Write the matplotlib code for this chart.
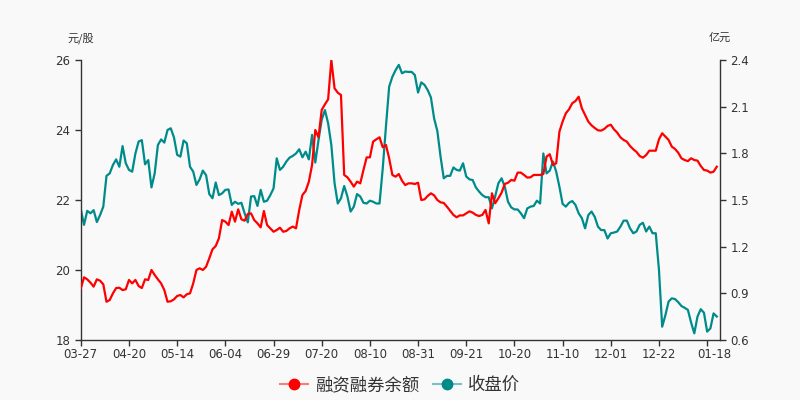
import matplotlib
matplotlib.use("Agg")
import matplotlib.pyplot as plt
from matplotlib.lines import Line2D
import numpy as np

plt.rcParams['font.family'] = ['DejaVu Sans', 'Noto Sans CJK SC']
CJK = ['Noto Sans CJK SC', 'DejaVu Sans']

# ---- data ----
tick_labels = ["03-27", "04-20", "05-14", "06-04", "06-29", "07-20", "08-10",
               "08-31", "09-21", "10-20", "11-10", "12-01", "12-22", "01-13"]
last_label = "01-18"

# 收盘价 (元/股, left axis)
close_price = [
    21.73, 21.29, 21.69, 21.62, 21.71, 21.37, 21.57, 21.81, 22.69, 22.76,
    23.00, 23.16, 22.95, 23.54, 23.05, 22.86, 22.81, 23.33, 23.67, 23.71,
    23.02, 23.14, 22.36, 22.76, 23.57, 23.73, 23.64, 24.00, 24.05, 23.79,
    23.29, 23.24, 23.70, 23.62, 22.95, 22.81, 22.43, 22.59, 22.84, 22.71,
    22.17, 22.05, 22.50, 22.14, 22.19, 22.29, 22.30, 21.86, 21.95, 21.89,
    21.92, 21.62, 21.36, 22.10, 22.11, 21.83, 22.29, 21.95, 21.98, 22.14,
    22.33, 23.19, 22.86, 22.95, 23.10, 23.21, 23.26, 23.33, 23.45, 23.22,
    23.38, 23.16, 23.86, 23.07, 23.71, 24.29, 24.57, 24.19, 23.57, 22.48,
    21.90, 22.05, 22.40, 22.10, 21.67, 21.81, 22.17, 22.10, 21.92, 21.90,
    21.98, 21.95, 21.90, 21.90, 22.90, 24.10, 25.24, 25.52, 25.71, 25.86,
    25.62, 25.67, 25.66, 25.66, 25.57, 25.07, 25.36, 25.29, 25.14, 24.93,
    24.33, 23.97, 23.24, 22.62, 22.69, 22.69, 22.93, 22.86, 22.84, 23.05,
    22.67, 22.59, 22.57, 22.36, 22.24, 22.14, 22.08, 22.08, 21.76, 22.10,
    22.48, 22.62, 22.38, 21.95, 21.79, 21.73, 21.73, 21.62, 21.48, 21.76,
    21.81, 21.83, 21.98, 21.90, 23.33, 22.76, 22.84, 23.10, 22.81, 22.38,
    21.89, 21.81, 21.92, 21.97, 21.86, 21.62, 21.48, 21.19, 21.57, 21.67,
    21.52, 21.24, 21.14, 21.14, 20.90, 21.05, 21.07, 21.10, 21.24, 21.41,
    21.41, 21.19, 21.05, 21.10, 21.29, 21.35, 21.10, 21.24, 21.05, 21.05,
    20.00, 18.38, 18.71, 19.10, 19.19, 19.17, 19.08, 18.97, 18.92, 18.86,
    18.50, 18.19, 18.67, 18.88, 18.78, 18.24, 18.33, 18.76, 18.67,
]

# 融资融券余额 (亿元, right axis)
margin_balance = [
    0.932, 1.003, 0.990, 0.969, 0.943, 0.990, 0.981, 0.958, 0.846, 0.857,
    0.900, 0.934, 0.936, 0.921, 0.926, 0.986, 0.964, 0.986, 0.947, 0.934,
    0.990, 0.986, 1.050, 1.018, 0.990, 0.964, 0.921, 0.846, 0.849, 0.861,
    0.883, 0.889, 0.874, 0.894, 0.900, 0.964, 1.050, 1.061, 1.050, 1.071,
    1.125, 1.183, 1.204, 1.254, 1.371, 1.361, 1.339, 1.425, 1.361, 1.440,
    1.376, 1.367, 1.410, 1.414, 1.371, 1.350, 1.324, 1.429, 1.339, 1.318,
    1.296, 1.307, 1.322, 1.296, 1.301, 1.318, 1.329, 1.318, 1.436, 1.532,
    1.558, 1.618, 1.725, 1.950, 1.903, 2.079, 2.115, 2.147, 2.400, 2.218,
    2.190, 2.175, 1.661, 1.646, 1.618, 1.586, 1.618, 1.607, 1.693, 1.774,
    1.774, 1.875, 1.890, 1.903, 1.839, 1.854, 1.768, 1.661, 1.650, 1.667,
    1.624, 1.596, 1.607, 1.607, 1.603, 1.611, 1.500, 1.504, 1.526, 1.543,
    1.530, 1.500, 1.485, 1.481, 1.457, 1.431, 1.404, 1.389, 1.401, 1.401,
    1.414, 1.427, 1.419, 1.404, 1.397, 1.404, 1.436, 1.350, 1.543, 1.479,
    1.511, 1.547, 1.603, 1.611, 1.629, 1.624, 1.676, 1.676, 1.661, 1.644,
    1.646, 1.661, 1.661, 1.661, 1.667, 1.779, 1.794, 1.725, 1.736, 1.939,
    2.004, 2.057, 2.083, 2.122, 2.136, 2.164, 2.089, 2.046, 2.004, 1.980,
    1.963, 1.948, 1.946, 1.957, 1.976, 1.984, 1.954, 1.933, 1.903, 1.886,
    1.875, 1.847, 1.826, 1.809, 1.783, 1.772, 1.789, 1.817, 1.817, 1.817,
    1.890, 1.929, 1.907, 1.886, 1.843, 1.828, 1.804, 1.768, 1.757, 1.750,
    1.768, 1.757, 1.753, 1.719, 1.693, 1.689, 1.676, 1.682, 1.714,
]

left_ticks = [18, 20, 22, 24, 26]
right_ticks = [0.6, 0.9, 1.2, 1.5, 1.8, 2.1, 2.4]

RED = '#ff0000'
TEAL = '#008b8b'
TXT = '#333333'
BG = '#f9f9f9'

fig = plt.figure(figsize=(8, 4), dpi=100, facecolor=BG)
ax = fig.add_axes([0.101, 0.15, 0.799, 0.70])
ax.set_facecolor(BG)
ax2 = ax.twinx()

x = np.arange(len(close_price))
ax.plot(x, close_price, color=TEAL, lw=1.6, solid_joinstyle='round', zorder=2)
ax2.plot(np.arange(len(margin_balance)), margin_balance, color=RED, lw=1.6,
         solid_joinstyle='round', zorder=3)

ax.set_xlim(0, 199)
ax.set_ylim(18, 26)
ax2.set_ylim(0.6, 2.4)

ax.set_yticks(left_ticks)
ax.set_yticklabels([str(t) for t in left_ticks])
ax2.set_yticks(right_ticks)
ax2.set_yticklabels([f"{t:.1f}" for t in right_ticks])

pos = list(range(0, 15 * len(tick_labels), 15))
ax.set_xticks(pos)
ax.set_xticklabels(tick_labels[:-1] + [""])
ax.set_xticks([197.2], minor=True)
ax.set_xticklabels([last_label], minor=True)

for a in (ax, ax2):
    for s in a.spines.values():
        s.set_color(TXT)
        s.set_linewidth(1.0)
    a.spines['top'].set_visible(False)
    a.tick_params(which='both', colors=TXT, labelsize=8.5, length=4, width=1.0)
ax2.spines['left'].set_visible(False)
ax2.spines['bottom'].set_visible(False)
ax.spines['right'].set_visible(False)
ax.tick_params(axis='x', which='major', pad=2)
ax.tick_params(axis='x', which='minor', length=0, pad=6)

fig.text(0.101, 0.905, "元/股", ha='center', va='center', fontsize=8,
         color=TXT, family=CJK)
fig.text(0.900, 0.905, "亿元", ha='center', va='center', fontsize=8,
         color=TXT, family=CJK)

h1 = (Line2D([], [], color=RED, lw=1.5, alpha=0.5),
      Line2D([], [], color=RED, marker='o', ls='', ms=7.5))
h2 = (Line2D([], [], color=TEAL, lw=1.5, alpha=0.5),
      Line2D([], [], color=TEAL, marker='o', ls='', ms=7.5))
leg = fig.legend([h1, h2], ["融资融券余额", "收盘价"], loc='center',
                 bbox_to_anchor=(0.5, 0.037), ncol=2, frameon=False,
                 prop={'family': CJK, 'size': 12.5},
                 handlelength=1.6, handletextpad=0.4,
                 columnspacing=0.8, labelcolor=TXT)

fig.savefig("out.png", dpi=100, facecolor=BG)
